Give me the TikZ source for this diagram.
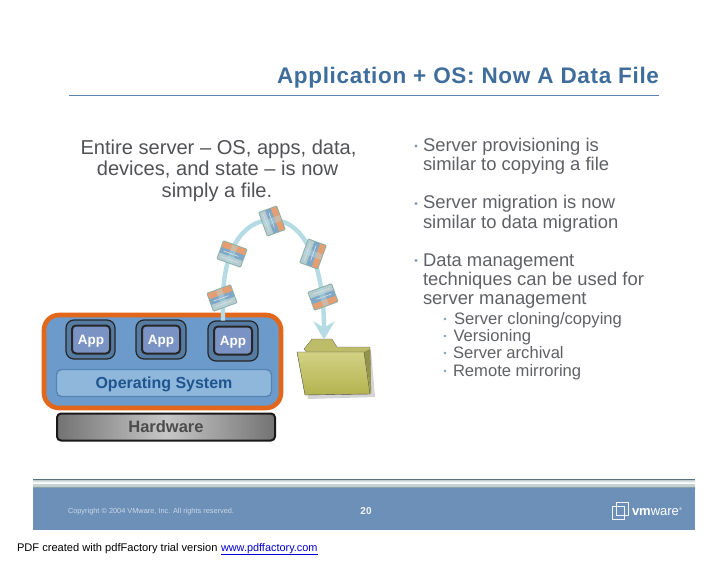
\documentclass[tikz,border=0pt]{standalone}
\usepackage{fontspec}
\setmainfont{Liberation Sans}
\usetikzlibrary{arrows.meta,shadings}
\definecolor{titleblue}{HTML}{3F6D9C}
\definecolor{bodygrey}{HTML}{5F6165}
\definecolor{bandblue}{HTML}{6C90B8}
\definecolor{orangeline}{HTML}{E2671B}
\definecolor{stackblue}{HTML}{6B9ACB}
\definecolor{osblue}{HTML}{8FB7DC}
\definecolor{osedge}{HTML}{5684B5}
\definecolor{ostext}{HTML}{1F558F}
\definecolor{appfill}{HTML}{7A93C4}
\definecolor{arcblue}{HTML}{B5DCE4}
\definecolor{dotblue}{HTML}{7B9CBF}
\definecolor{cardedge}{HTML}{8FAFA5}
\definecolor{cardorange}{HTML}{E49E72}
\definecolor{cardblue}{HTML}{7FA8C8}
\definecolor{cardpale}{HTML}{B4CDD3}
\definecolor{foldertop}{HTML}{D2D283}
\definecolor{folderbot}{HTML}{B4B350}
\definecolor{folderback}{HTML}{BDBC68}
\definecolor{folderside}{HTML}{94934A}
\definecolor{ruledark}{HTML}{56737F}
\definecolor{rulepale}{HTML}{C6D3D2}
\tikzset{
  every node/.style={inner sep=0pt,outer sep=0pt},
  bodytext/.style={text=bodygrey,anchor=base west,font=\fontsize{18.4}{20}\selectfont},
  subtext/.style={text=bodygrey,anchor=base west,font=\fontsize{16.6}{17}\selectfont},
  dotmark/.style={circle,fill=dotblue,minimum size=3.4pt},
  headtext/.style={text=bodygrey!85!black,anchor=base,font=\fontsize{20.1}{22}\selectfont},
  appbox/.style={draw=black!85,line width=2pt,fill=appfill,rounded corners=4pt,minimum width=38pt,minimum height=28pt,text=white,text height=10pt,text depth=0pt,font=\bfseries\fontsize{13.5}{15}\selectfont},
  apphalo/.style={draw=black!85,line width=1.2pt,fill=stackblue!80!black,rounded corners=8pt},
  pics/filecard/.style={code={
    \fill[rounded corners=1pt,fill=cardedge] (-13,-10) rectangle (13,10);
    \fill[fill=cardorange] (-12,-9) rectangle (12,-3);
    \fill[fill=cardblue] (-12,-3) rectangle (12,3);
    \fill[fill=cardpale] (-12,3) rectangle (12,9);
    \fill[arcblue,opacity=.45] (-3,-9) rectangle (3,9);
    \draw[white!75!gray,line width=.6pt] (-9,6) -- (9,6) (-9,0) -- (7,0);
  }},
}
\begin{document}
\begin{tikzpicture}[x=1pt,y=-1pt]
\useasboundingbox (0,0) rectangle (728,563);
\fill[white] (0,0) rectangle (728,563);
% title
\node[anchor=base east,text=titleblue,font=\bfseries\fontsize{22.5}{24}\selectfont\addfontfeature{LetterSpace=3}] (title) at (659,83) {Application + OS: Now A Data File};
\coordinate (ruleL) at (69,95); \coordinate (ruleR) at (659,95);
\draw[titleblue!85,line width=.8pt] (ruleL) -- (ruleR);
% heading
\node[headtext] (h1) at (218.5,154) {Entire server – OS, apps, data,};
\node[headtext] (h2) at (217.5,175.5) {devices, and state – is now};
\node[headtext] (h3) at (217,197) {simply a file.};
% bullets
\foreach \n/\y/\t in {a/151.5/{Server provisioning is},b/170/{similar to copying a file},c/208.5/{Server migration is now},d/228/{similar to data migration},e/266/{Data management},f/285.5/{techniques can be used for},g/304/{server management}}{
  \node[bodytext] (\n) at (423,\y) {\t};
}
\node[dotmark] (da) at (416,146) {};
\node[dotmark] (dc) at (416,203.5) {};
\node[dotmark] (de) at (416,260.5) {};
\node[subtext] (s1) at (454,324) {Server cloning/copying};
\node[subtext] (s2) at (453.5,341.5) {Versioning};
\node[subtext] (s3) at (453,358) {Server archival};
\node[subtext] (s4) at (453,376) {Remote mirroring};
\foreach \y in {319,336,353,371}{\node[dotmark,minimum size=2.8pt] at (445,\y) {};}
% stack
\node[draw=orangeline,line width=4.6pt,fill=stackblue,rounded corners=15pt,minimum width=237pt,minimum height=93pt] (stack) at (162.5,361.5) {};
\draw[apphalo] (66,320) rectangle (115,359);
\draw[apphalo] (136,320) rectangle (186,359);
\draw[apphalo] (208,321) rectangle (258,361);
\node[appbox] (app1) at (91,339.5) {App};
\node[appbox] (app2) at (161,339.5) {App};
\node[appbox] (app3) at (233,340.5) {App};
\node[draw=osedge,line width=1.4pt,fill=osblue,rounded corners=5pt,minimum width=215pt,minimum height=27pt,text=ostext,text height=11.5pt,text depth=0pt,font=\bfseries\fontsize{16}{18}\selectfont] (os) at (164,383) {Operating System};
\node[draw=black!90,line width=2pt,rounded corners=4pt,left color=black!55,right color=black!55,middle color=black!22,minimum width=218pt,minimum height=27pt,text=black!70,font=\bfseries\fontsize{16.5}{18}\selectfont] (hw) at (166,427) {Hardware};
% folder
\fill[black!30,opacity=.55] (301,360) -- (371,350) -- (375,397) -- (308,399) -- cycle;
\filldraw[draw=black!60,line width=.3pt,fill=folderback] (304,349) -- (312,339) -- (332,339) -- (337,347) -- (370,347) -- (371,393) -- (340,394) -- cycle;
\fill[folderside] (364,352) -- (370,349) -- (371,393) -- cycle;
\node[minimum width=1pt,minimum height=1pt] (folder) at (324,340) {};
\shade[draw=black!70,line width=.4pt,top color=foldertop,bottom color=folderbot] (297,352) -- (364,352) -- (370,394) -- (305,395) -- cycle;
% arc
\draw[arcblue,line width=4.4pt,-{Stealth[length=18pt,width=21pt,inset=6pt]}] (app3.north) ++(-10,-6) -- (223,300) .. controls (223,255) and (240,220) .. (272,220) .. controls (305,220) and (324,265) .. (folder.north);
% cards
\pic[rotate=20] at (222,298) {filecard};
\pic[rotate=-20] at (232,254) {filecard};
\pic[rotate=-70] at (272,221) {filecard};
\pic[rotate=-110] at (313,254) {filecard};
\pic[rotate=200] at (323,297) {filecard};
% footer
\fill[ruledark] (33,479) rectangle (695,480.2);
\shade[top color=rulepale,bottom color=white] (33,480.2) rectangle (695,482.5);
\fill[white] (33,482.5) rectangle (695,484);
\fill[rulepale] (33,484) rectangle (695,486.5);
\shade[top color=rulepale!70!ruledark,bottom color=ruledark] (33,486.5) rectangle (695,488);
\fill[bandblue] (33,488) rectangle (695,530);
\node[anchor=base west,text=white!65!bandblue,font=\fontsize{7.36}{9}\selectfont] (copy) at (68,513) {Copyright © 2004 VMware, Inc. All rights reserved.};
\node[anchor=base,text=white!90!bandblue,font=\bfseries\fontsize{10}{12}\selectfont] (page) at (366,514) {20};
\draw[white!90!bandblue,line width=.7pt] (612,506) rectangle (624,519) (616,502) rectangle (628,515);
\node[anchor=base west,text=white,font=\bfseries\fontsize{13}{14}\selectfont] (logo) at (632,515) {vm};
\node[anchor=base west,text=white,font=\fontsize{13}{14}\selectfont] (logob) at (logo.base east) {ware};
\node[anchor=base west,text=white,font=\fontsize{4}{5}\selectfont] (logoc) at (679,510) {®};
% pdf note
\node[anchor=base west,text=black,font=\fontsize{11.1}{13}\selectfont] (pdf) at (17,551) {PDF created with pdfFactory trial version};
\node[anchor=base west,text=blue!80!black,font=\fontsize{10.9}{13}\selectfont] (url) at (221,551) {\underline{www.pdffactory.com}};
\end{tikzpicture}
\end{document}
